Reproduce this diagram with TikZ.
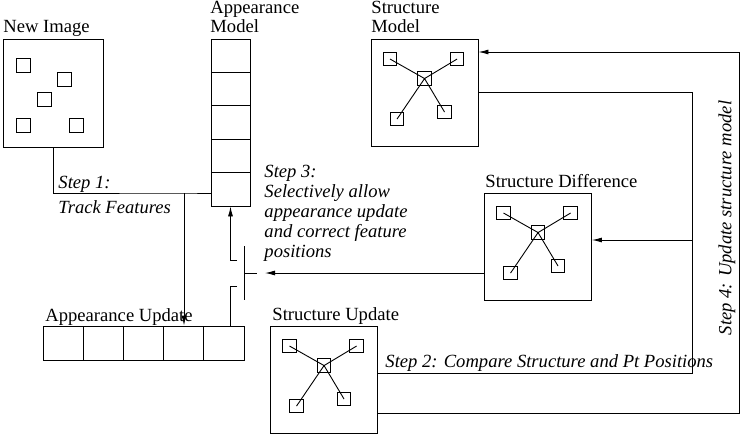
\documentclass[tikz,border=0pt]{standalone}
\usepackage{fontspec}
\setmainfont{Liberation Serif}
\usetikzlibrary{positioning,arrows.meta}

\begin{document}
\begin{tikzpicture}[x=1pt, y=-1pt, line width=0.9pt,
    every node/.style={font=\fontsize{18.6}{20}\selectfont, inner sep=0pt},
    boxlbl/.style={anchor=base west},
    toplbl/.style={anchor=south west, align=left, font=\fontsize{18.6}{18.5}\selectfont},
    steptxt/.style={font=\fontsize{18.6}{20}\selectfont\itshape},
    arr/.style={-{Latex[length=10pt,width=5pt]}},
    sbox/.style={draw, minimum size=107pt},
    feat/.style={draw, minimum size=14pt},
    amcell/.style={draw, minimum width=39pt, minimum height=33.4pt},
    aucell/.style={draw, minimum width=40.2pt, minimum height=34pt},
    pics/featstar/.style={code={
      \draw (0,0) -- (-34.5,-19.5) (0,0) -- (32.5,-19.5)
            (0,0) -- (-27.5,40.5) (0,0) -- (20,33.5);
      \foreach \a/\b in {0/0,-34.5/-19.5,32.5/-19.5,-27.5/40.5,20/33.5}
        \draw (\a,\b) +(-6.75,-6.75) rectangle +(6.75,6.75);
    }}]
  \useasboundingbox (0,0) rectangle (741,437);

  % new image with tracked points
  \node[draw, minimum width=100pt, minimum height=108pt] (img) at (53,93) {};
  \node[boxlbl] (imgl) at (3,32) {New Image};
  \node[feat] (f1) at (23.5,65.5) {};
  \node[feat] (f2) at (64,79) {};
  \node[feat] (f3) at (44,99.5) {};
  \node[feat] (f4) at (23.5,125) {};
  \node[feat] (f5) at (76.5,125) {};

  % appearance model and update
  \foreach \i in {1,...,5}
    \node[amcell] (am\i) at (230.5,{39+33.4*(\i-0.5)}) {};
  \node[toplbl] (aml) at (210,33) {Appearance\\Model};
  \foreach \i in {1,...,5}
    \node[aucell] (au\i) at ({43+40.2*(\i-0.5)},343) {};
  \node[boxlbl] (aul) at (45,321) {Appearance Update};

  % structure boxes
  \node[sbox] (smodel) at (424.5,92.5) {};
  \node[toplbl] (smodell) at (371,33) {Structure\\Model};
  \node[sbox] (sdiff) at (538,246.5) {};
  \node[boxlbl] (sdiffl) at (485,187) {Structure Difference};
  \node[sbox] (supd) at (324,379.5) {};
  \node[boxlbl] (supdl) at (272,320) {Structure Update};
  \pic at ([shift={(54,40)}]smodel.north west) {featstar};
  \pic at ([shift={(54,40)}]sdiff.north west) {featstar};
  \pic at ([shift={(54,40)}]supd.north west) {featstar};

  % step 1
  \coordinate (j1) at (184,193);
  \draw (img.south) |- (j1) -- (j1 -| am5.west);
  \draw[arr] (j1) -- (j1 |- au4.north);
  \node[steptxt, anchor=base west] (s1) at (58,188) {Step 1:};
  \node[steptxt, anchor=base west] (s1b) at (58,213) {Track Features};

  % step 3 (switch)
  \coordinate (sw) at (244,273);
  \coordinate (swtop) at (237,260);
  \coordinate (swbot) at (237,286);
  \coordinate (swin) at (265,273);
  \draw ([yshift=27pt]sw) -- ([yshift=-27pt]sw);
  \draw (sw) -- ++(13,0);
  \draw[arr] (swtop) -| (am5.south);
  \draw (swbot) -| (au5.north -| am5.south);
  \draw[arr] (sdiff.west |- swin) -- (swin);
  \node[steptxt, anchor=north west, align=left] (s3) at (264,164.5)
    {Step 3:\\Selectively allow\\appearance update\\and correct feature\\positions};

  % step 2
  \coordinate (cmp) at (692,240);
  \draw (smodel.east) -| (cmp) |- ([yshift=6.5pt]supd.east);
  \draw[arr] (cmp) -- (cmp -| sdiff.east);
  \node[steptxt, anchor=base west] (s2) at (385,367) {Step 2: Compare Structure and Pt Positions};

  % step 4
  \coordinate (upd) at (739,52);
  \draw[arr] ([yshift=-33.5pt]supd.east) -| (upd) -- ([yshift=40.5pt]smodel.east);
  \node[steptxt, rotate=90] (s4) at (727,218) {Step 4: Update structure model};
\end{tikzpicture}
\end{document}
